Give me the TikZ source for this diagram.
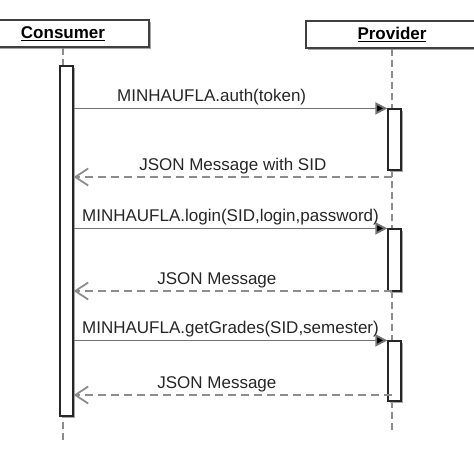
\documentclass[tikz,border=0pt]{standalone}
\usepackage{fontspec}
\setmainfont{Liberation Sans}
\usetikzlibrary{arrows.meta,shadows}

\tikzset{
	objbox/.style={draw=black!75, line width=1.2pt, fill=white,
		minimum width=172pt, minimum height=27pt, inner sep=0pt,
		drop shadow={shadow xshift=2pt, shadow yshift=-2pt, fill=black!35, opacity=1}},
	actbar/.style={draw=black!85, line width=1.2pt, fill=white,
		minimum width=13pt, inner sep=0pt,
		drop shadow={shadow xshift=1.5pt, shadow yshift=-1.5pt, fill=black!35, opacity=1}},
	lifeline/.style={draw=black!45, line width=2pt, dash pattern=on 7pt off 4pt},
	call/.style={draw=black!55, line width=1.8pt,
		-{Triangle[length=12pt, width=12pt, fill=black]}},
	reply/.style={draw=black!45, line width=1.8pt, dash pattern=on 8pt off 5pt,
		-{Straight Barb[length=13pt, width=17pt]}},
	msg/.style={above, inner sep=2pt, text=black!85}
}

\begin{document}
\begin{tikzpicture}[x=1pt, y=-1pt, font=\fontsize{17}{20}\selectfont]
	\useasboundingbox (0,0) rectangle (474,474);
	\clip (0,0) rectangle (474,474);

	% objects
	\node [objbox] (consumer) at (63,33.5) {\textbf{\underline{Consumer}}};
	\node [objbox] (provider) at (392,34.5) {\textbf{\underline{Provider}}};

	% lifelines
	\coordinate (cend) at (63,442);
	\coordinate (pend) at (392,433);
	\draw [lifeline] (consumer.south) -- (cend);
	\draw [lifeline] (provider.south) -- (pend);

	% activations
	\node [actbar, minimum height=350pt] (cbar) at (66.5,241) {};
	\node [actbar, minimum height=61pt] (pauth) at (394.5,139.5) {};
	\node [actbar, minimum height=62pt] (plogin) at (394.5,260) {};
	\node [actbar, minimum height=60pt] (pgrades) at (394.5,371) {};

	% calls
	\draw [call] (cbar.east |- pauth.north west) to
		node [msg, pos=0.44] {MINHAUFLA.auth(token)}
		(pauth.north west);
	\draw [call] (cbar.east |- plogin.north west) to
		node [msg] {MINHAUFLA.login(SID,login,password)}
		(plogin.north west);
	\draw [call] (cbar.east |- pgrades.north west) to
		node [msg] {MINHAUFLA.getGrades(SID,semester)}
		(pgrades.north west);

	% replies
	\coordinate (rauth) at (392,177);
	\coordinate (rlogin) at (392,291);
	\coordinate (rgrades) at (392,395);
	\draw [reply] (rauth) to
		node [msg] {JSON Message with SID}
		(cbar.east |- rauth);
	\draw [reply] (rlogin) to
		node [msg, pos=0.55] {JSON Message}
		(cbar.east |- rlogin);
	\draw [reply] (rgrades) to
		node [msg, pos=0.55] {JSON Message}
		(cbar.east |- rgrades);
\end{tikzpicture}
\end{document}
